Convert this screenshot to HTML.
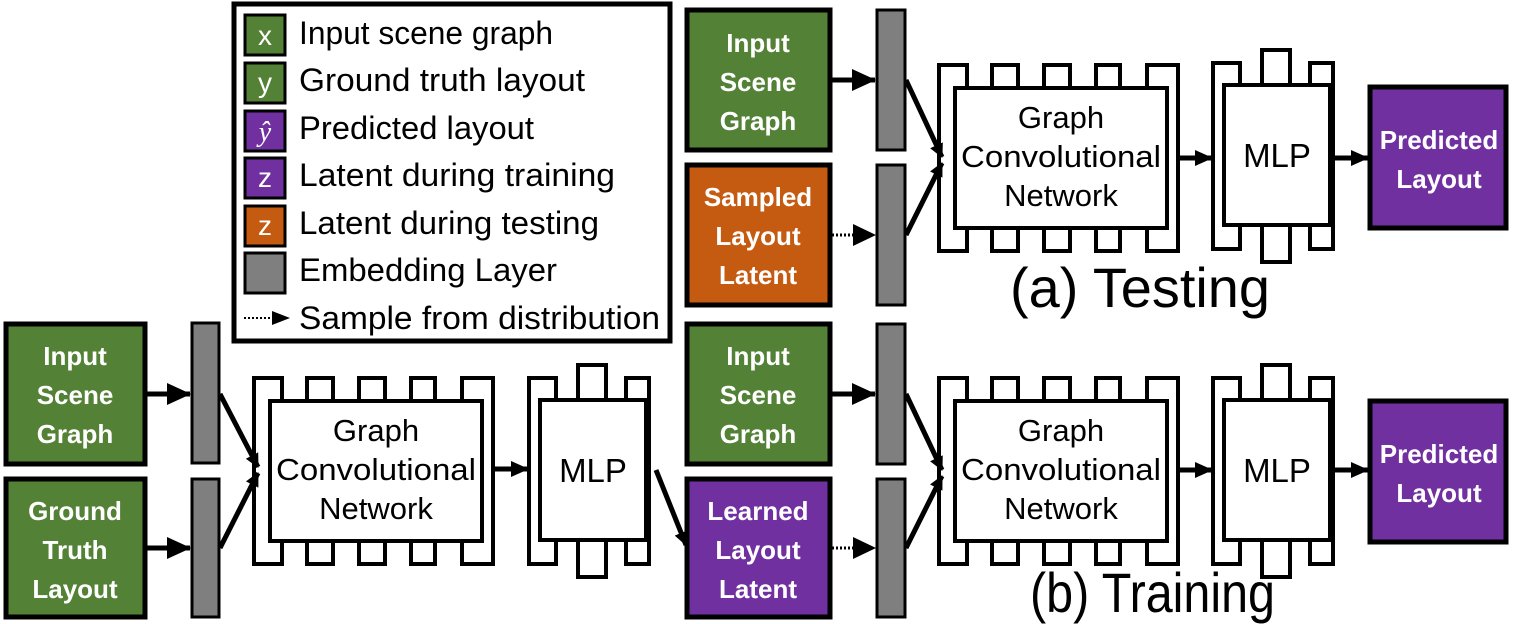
<!DOCTYPE html>
<html><head><meta charset="utf-8"><style>
html,body{margin:0;padding:0;background:#fff;}
svg{display:block;}
.lbl{font-family:"Liberation Sans",sans-serif;font-weight:bold;fill:#fff;font-size:26px;text-anchor:middle;}
.net{font-family:"Liberation Sans",sans-serif;fill:#000;font-size:31px;text-anchor:middle;}
.leg{font-family:"Liberation Sans",sans-serif;fill:#000;font-size:32px;}
.sw{font-family:"Liberation Sans",sans-serif;fill:#fff;font-size:28px;text-anchor:middle;}
.cap{font-family:"Liberation Sans",sans-serif;fill:#000;font-size:56px;}
</style></head><body>
<svg width="1514" height="624" viewBox="0 0 1514 624" xmlns="http://www.w3.org/2000/svg">
<defs>
<marker id="ah" markerWidth="24" markerHeight="22" refX="23" refY="11" orient="auto" markerUnits="userSpaceOnUse" viewBox="0 0 24 22"><path d="M0,0 L24,11 L0,22 z" fill="#000"/></marker>
<marker id="am" markerWidth="18" markerHeight="16" refX="17" refY="8" orient="auto" markerUnits="userSpaceOnUse" viewBox="0 0 18 16"><path d="M0,0 L18,8 L0,16 z" fill="#000"/></marker>
<marker id="as" markerWidth="14" markerHeight="14" refX="13" refY="7" orient="auto" markerUnits="userSpaceOnUse" viewBox="0 0 14 14"><path d="M0,0 L14,7 L0,14 z" fill="#000"/></marker>
<g id="gcn">
  <g fill="#fff" stroke="#000" stroke-width="4">
    <rect x="0" y="0" width="28" height="186"/>
    <rect x="208" y="0" width="31" height="186"/>
    <rect x="53" y="0" width="26" height="186"/>
    <rect x="105" y="0" width="26" height="186"/>
    <rect x="157" y="0" width="24" height="186"/>
    <rect x="16" y="23" width="212" height="140"/>
  </g>
  <text class="net" x="122" y="63">Graph</text>
  <text class="net" x="122" y="102" textLength="200" lengthAdjust="spacingAndGlyphs">Convolutional</text>
  <text class="net" x="122" y="141">Network</text>
</g>
<g id="mlp">
  <g fill="#fff" stroke="#000" stroke-width="4">
    <rect x="0" y="0" width="27" height="186"/>
    <rect x="97" y="0" width="23" height="186"/>
    <rect x="49" y="-13" width="28" height="212"/>
    <rect x="11" y="22" width="106" height="140"/>
  </g>
  <text class="net" x="64" y="104" style="font-size:33px">MLP</text>
</g>
</defs>

<!-- Legend -->
<rect x="234" y="4" width="436" height="337" fill="#fff" stroke="#000" stroke-width="5"/>
<g stroke="#000" stroke-width="3">
<rect x="245" y="15" width="40" height="40" fill="#538135"/>
<rect x="245" y="63" width="40" height="40" fill="#538135"/>
<rect x="245" y="111" width="40" height="40" fill="#7030a0"/>
<rect x="245" y="158" width="40" height="40" fill="#7030a0"/>
<rect x="245" y="206" width="40" height="40" fill="#c55a11"/>
<rect x="245" y="253" width="40" height="40" fill="#7f7f7f"/>
</g>
<text class="sw" x="265" y="45">x</text>
<text class="sw" x="265" y="92">y</text>
<text class="sw" x="265" y="141" style="font-family:'Liberation Serif',serif;font-style:italic">ŷ</text>
<text class="sw" x="265" y="187">z</text>
<text class="sw" x="265" y="235">z</text>
<text class="leg" x="299" y="44" textLength="254" lengthAdjust="spacingAndGlyphs">Input scene graph</text>
<text class="leg" x="299" y="91" textLength="286" lengthAdjust="spacingAndGlyphs">Ground truth layout</text>
<text class="leg" x="299" y="139" textLength="235" lengthAdjust="spacingAndGlyphs">Predicted layout</text>
<text class="leg" x="299" y="186" textLength="316" lengthAdjust="spacingAndGlyphs">Latent during training</text>
<text class="leg" x="299" y="234" textLength="300" lengthAdjust="spacingAndGlyphs">Latent during testing</text>
<text class="leg" x="299" y="281" textLength="258" lengthAdjust="spacingAndGlyphs">Embedding Layer</text>
<text class="leg" x="299" y="329" textLength="361" lengthAdjust="spacingAndGlyphs">Sample from distribution</text>
<line x1="244" y1="318" x2="272" y2="318" stroke="#000" stroke-width="2" stroke-dasharray="2,2"/>
<path d="M272,311 L290,318 L272,325 z" fill="#000"/>

<!-- Boxes -->
<g stroke="#000" stroke-width="5">
<rect x="6" y="324" width="139" height="140" fill="#538135"/>
<rect x="6" y="479" width="139" height="138" fill="#538135"/>
<rect x="687" y="10" width="143" height="140" fill="#538135"/>
<rect x="687" y="165" width="143" height="140" fill="#c55a11"/>
<rect x="687" y="324" width="143" height="140" fill="#538135"/>
<rect x="687" y="479" width="143" height="138" fill="#7030a0"/>
<rect x="1370" y="87" width="136" height="141" fill="#7030a0"/>
<rect x="1370" y="401" width="136" height="141" fill="#7030a0"/>
</g>
<g stroke="#000" stroke-width="3" fill="#7f7f7f">
<rect x="192" y="323" width="27" height="140"/>
<rect x="192" y="479" width="27" height="138"/>
<rect x="877" y="10" width="28" height="140"/>
<rect x="877" y="165" width="28" height="140"/>
<rect x="877" y="324" width="28" height="140"/>
<rect x="877" y="479" width="28" height="138"/>
</g>
<text class="lbl" x="75" y="365">Input</text>
<text class="lbl" x="75" y="404">Scene</text>
<text class="lbl" x="75" y="443">Graph</text>
<text class="lbl" x="75" y="520">Ground</text>
<text class="lbl" x="75" y="559">Truth</text>
<text class="lbl" x="75" y="598">Layout</text>
<text class="lbl" x="758" y="52">Input</text>
<text class="lbl" x="758" y="91">Scene</text>
<text class="lbl" x="758" y="130">Graph</text>
<text class="lbl" x="758" y="206">Sampled</text>
<text class="lbl" x="758" y="245">Layout</text>
<text class="lbl" x="758" y="284">Latent</text>
<text class="lbl" x="758" y="365">Input</text>
<text class="lbl" x="758" y="404">Scene</text>
<text class="lbl" x="758" y="443">Graph</text>
<text class="lbl" x="758" y="520">Learned</text>
<text class="lbl" x="758" y="559">Layout</text>
<text class="lbl" x="758" y="598">Latent</text>
<text class="lbl" x="1439" y="149">Predicted</text>
<text class="lbl" x="1439" y="188">Layout</text>
<text class="lbl" x="1439" y="463">Predicted</text>
<text class="lbl" x="1439" y="502">Layout</text>

<!-- networks -->
<use href="#gcn" x="254" y="378"/>
<use href="#mlp" x="529" y="378"/>
<use href="#gcn" x="939" y="65"/>
<use href="#mlp" x="1213" y="63"/>
<use href="#gcn" x="939" y="378"/>
<use href="#mlp" x="1213" y="378"/>

<!-- arrows -->
<g stroke="#000" stroke-width="5" fill="none">
<line x1="147" y1="394" x2="190" y2="394" marker-end="url(#ah)"/>
<line x1="147" y1="548" x2="190" y2="548" marker-end="url(#ah)"/>
<line x1="220" y1="394" x2="258" y2="467" marker-end="url(#as)"/>
<line x1="220" y1="548" x2="258" y2="473" marker-end="url(#as)"/>
<line x1="493" y1="469" x2="528" y2="469" marker-end="url(#am)"/>
<line x1="656" y1="470" x2="686" y2="545" marker-end="url(#as)"/>

<line x1="832" y1="80" x2="875" y2="80" marker-end="url(#ah)"/>
<line x1="906" y1="80" x2="942" y2="157" marker-end="url(#as)"/>
<line x1="906" y1="235" x2="942" y2="163" marker-end="url(#as)"/>
<line x1="1178" y1="158" x2="1212" y2="158" marker-end="url(#am)"/>
<line x1="1334" y1="158" x2="1368" y2="158" marker-end="url(#am)"/>

<line x1="832" y1="394" x2="875" y2="394" marker-end="url(#ah)"/>
<line x1="906" y1="394" x2="942" y2="470" marker-end="url(#as)"/>
<line x1="906" y1="548" x2="942" y2="476" marker-end="url(#as)"/>
<line x1="1178" y1="470" x2="1212" y2="470" marker-end="url(#am)"/>
<line x1="1334" y1="470" x2="1368" y2="470" marker-end="url(#am)"/>
</g>
<g stroke="#000" stroke-width="3" stroke-dasharray="2,2">
<line x1="832" y1="235" x2="855" y2="235"/>
<line x1="832" y1="548" x2="855" y2="548"/>
</g>
<path d="M853,224 L876,235 L853,246 z" fill="#000"/>
<path d="M853,537 L876,548 L853,559 z" fill="#000"/>

<text class="cap" x="1010" y="307" textLength="260" lengthAdjust="spacingAndGlyphs">(a) Testing</text>
<text class="cap" x="1030" y="612" textLength="245" lengthAdjust="spacingAndGlyphs">(b) Training</text>
</svg>
</body></html>
